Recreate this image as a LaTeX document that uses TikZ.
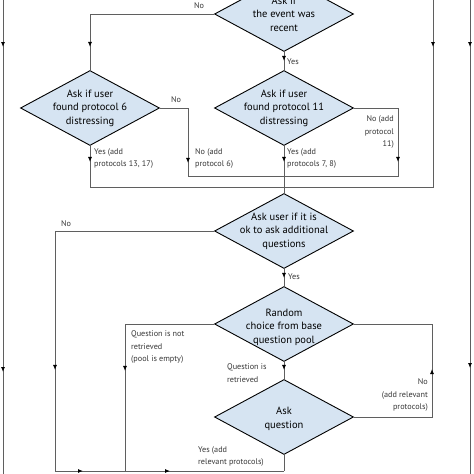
\documentclass[tikz,border=0pt]{standalone}
\usepackage{fontspec}
\setmainfont{PT Sans}
\usetikzlibrary{shapes.geometric, arrows.meta, decorations.markings}

\definecolor{diablue}{RGB}{214,228,242}
\definecolor{linegray}{RGB}{95,95,95}
\definecolor{textgray}{RGB}{55,55,55}

\tikzset{
  decision/.style={diamond, draw=black, fill=diablue, line width=0.9pt,
    minimum width=139pt, minimum height=75pt, inner sep=0pt},
  dtext/.style={align=center, font=\fontsize{10.5}{13.5}\selectfont, inner sep=0pt},
  lbl/.style={font=\fontsize{8.2}{12.5}\selectfont, text=textgray, inner sep=0pt},
  flow/.style={draw=linegray, line width=0.9pt},
  arrowat/.style={postaction={decorate, decoration={markings,
    mark=at position #1 with {\arrow[black]{Latex[length=5pt,width=4pt]}}}}},
}

\begin{document}
\begin{tikzpicture}[x=1pt, y=-1pt]
    \useasboundingbox (0,0) rectangle (474,474);
    \fill[white] (0,0) rectangle (474,474);
    \clip (0,0) rectangle (474,474);

    % decisions
    \node[decision] (recent) at (284,14) {};
    \node[dtext] (recentT) at (recent) {Ask if\\the event was\\recent};
    \node[decision] (prot6) at (90,108) {};
    \node[dtext] (prot6T) at (prot6) {Ask if user\\found protocol 6\\distressing};
    \node[decision] (prot11) at (284,108) {};
    \node[dtext] (prot11T) at (prot11) {Ask if user\\found protocol 11\\distressing};
    \node[decision] (okask) at (284,231) {};
    \node[dtext] (okaskT) at (okask) {Ask user if it is\\ok to ask additional\\questions};
    \node[decision] (pool) at (284,324) {};
    \node[dtext] (poolT) at ([yshift=-3pt]pool) {Random\\choice from base\\question pool};
    \node[decision] (askq) at (284,417) {};
    \node[dtext] (askqT) at ([yshift=-2pt]askq) {Ask\\question};

    % bends and joins
    \coordinate (j6) at (188,176);
    \coordinate (j11) at (398,176);
    \coordinate (m1) at (284,176);
    \coordinate (m2) at (284,187);
    \coordinate (top433) at (433,0);
    \coordinate (topL) at (3,0);
    \coordinate (botL) at (3,474);
    \coordinate (topR) at (470,0);
    \coordinate (botR) at (470,474);
    \coordinate (bNo) at (55,471);
    \coordinate (bPool) at (125,471);
    \coordinate (bYes) at (284,471);
    \coordinate (loopq) at (432,324);

    % connectors
    \draw[flow, arrowat=157pt] (recent.west) -| (prot6.north);
    \draw[flow, arrowat=9pt] (recent.south) -- (prot11.north);
    \draw[flow, arrowat=83pt] (prot6.east) -| (j6) -- (m1);
    \draw[flow, arrowat=16pt] (prot6.south) |- (m2);
    \draw[flow, arrowat=98pt] (prot11.east) -| (j11) -- (m1);
    \draw[flow, arrowat=16pt] (prot11.south) -- (okask.north);
    \draw[flow, arrowat=47pt] (top433) |- (m2);
    \draw[flow, arrowat=47pt, arrowat=372pt] (topL) -- (botL);
    \draw[flow, arrowat=47pt, arrowat=368pt] (topR) -- (botR);
    \draw[flow, arrowat=9pt] (okask.south) -- (pool.north);
    \draw[flow, arrowat=298pt] (okask.west) -| (bNo);
    \draw[flow, arrowat=136pt] (pool.west) -| (bPool);
    \draw[flow, arrowat=8pt] (pool.south) -- (askq.north);
    \draw[flow, arrowat=126pt] (askq.east) -| (loopq) -- (pool.east);
    \draw[flow] (askq.south) -- (bYes);
    \draw[flow, arrowat=28pt, arrowat=115pt] (bNo) -- (bYes);

    % labels
    \node[lbl] (lNo1) at (199,6) {No};
    \node[lbl, anchor=west] (lYes1) at (287,62) {Yes};
    \node[lbl] (lNo6) at (176,100) {No};
    \node[lbl, anchor=west, align=left] (lYes6) at (94,158.5) {Yes (add\\protocols 13, 17)};
    \node[lbl, anchor=west, align=left] (lAdd6) at (195,158.5) {No (add\\protocol 6)};
    \node[lbl, anchor=east, align=right] (lAdd11) at (394,132) {No (add\\protocol\\11)};
    \node[lbl, anchor=west, align=left] (lYes11) at (287,158.5) {Yes (add\\protocols 7, 8)};
    \node[lbl] (lNoOk) at (66,224) {No};
    \node[lbl, anchor=west] (lYesOk) at (288,277) {Yes};
    \node[lbl, anchor=west, align=left] (lEmpty) at (131,347) {Question is not\\retrieved\\(pool is empty)};
    \node[lbl, anchor=west, align=left] (lGot) at (227,373) {Question is\\retrieved};
    \node[lbl, anchor=east, align=right] (lNoQ) at (428,395) {No\\(add relevant\\protocols)};
    \node[lbl, anchor=west, align=left] (lYesQ) at (198,456.5) {Yes (add\\relevant protocols)};
\end{tikzpicture}
\end{document}
